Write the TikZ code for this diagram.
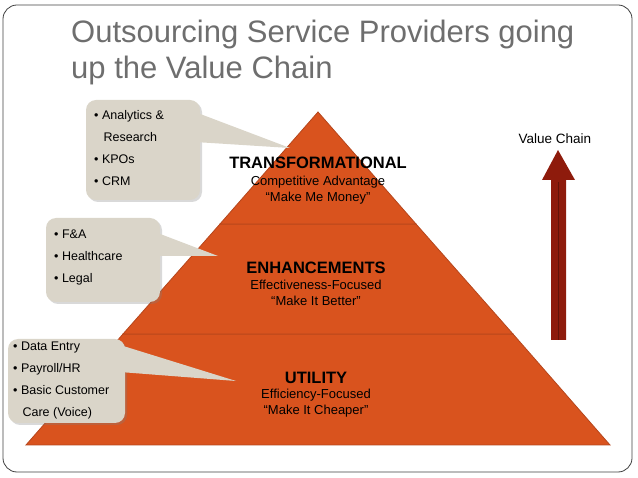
\documentclass[tikz,border=0pt]{standalone}
\usepackage{fontspec}
\setmainfont{Liberation Sans}
\usetikzlibrary{shadows}
\definecolor{pyr}{HTML}{D9531E}
\definecolor{pyredge}{HTML}{B5461C}
\definecolor{callf}{HTML}{DAD5C9}
\definecolor{titleg}{HTML}{6E6E6E}
\definecolor{arr}{HTML}{8E1B0C}
\begin{document}
\begin{tikzpicture}[x=1pt,y=-1pt,
  layer/.style={fill=pyr,draw=pyredge,line width=0.8pt},
  calltxt/.style={font=\fontsize{12.5}{22}\selectfont,align=left,anchor=north west,inner sep=0pt},
  head/.style={font=\bfseries\fontsize{16.5}{18}\selectfont},
  sub/.style={font=\fontsize{13}{15}\selectfont}]
\useasboundingbox (0,0) rectangle (638,478);
\draw[black!75,line width=0.8pt,rounded corners=14pt] (3,5) rectangle (632,472);
\node[anchor=north west,text=titleg,font=\fontsize{31}{36}\selectfont,align=left,inner sep=0pt] (title) at (71,20) {Outsourcing Service Providers going\\up the Value Chain};
% pyramid
\coordinate (apex) at (318,112);
\draw[layer] (26,445) -- (610,445) -- (513,334) -- (123,334) -- cycle;
\draw[layer] (123,334) -- (513,334) -- (416,224) -- (220,224) -- cycle;
\draw[layer] (220,224) -- (416,224) -- (apex) -- cycle;
\node[head] (t1) at (318,163) {TRANSFORMATIONAL};
\node[sub] (t1a) at (318,182) {Competitive Advantage};
\node[sub] (t1b) at (318,198) {“Make Me Money”};
\node[head] (t2) at (316,268) {ENHANCEMENTS};
\node[sub] (t2a) at (316,285) {Effectiveness-Focused};
\node[sub] (t2b) at (316,301) {“Make It Better”};
\node[head] (t3) at (316,378) {UTILITY};
\node[sub] (t3a) at (316,395) {Efficiency-Focused};
\node[sub] (t3b) at (316,411) {“Make It Cheaper”};
% callouts
\fill[callf,drop shadow={opacity=0.3,shadow xshift=2pt,shadow yshift=-2pt}] [rounded corners=10pt] (86,100) rectangle (200,200);
\fill[callf] (195,112) -- (290,148) -- (195,142) -- cycle;
\node[calltxt] (c1) at (94,110) {• Analytics \&\\\hspace*{0.75em}Research\\• KPOs\\• CRM};
\fill[callf,drop shadow={opacity=0.3,shadow xshift=2pt,shadow yshift=-2pt}] [rounded corners=10pt] (46,218) rectangle (160,302);
\fill[callf] (155,232) -- (218,256) -- (155,256) -- cycle;
\node[calltxt] (c2) at (54,230) {• F\&A\\• Healthcare\\• Legal};
\fill[callf,drop shadow={opacity=0.3,shadow xshift=2pt,shadow yshift=-2pt}] [rounded corners=10pt] (8,339) rectangle (125,423);
\fill[callf] (120,345) -- (236,381) -- (120,372) -- cycle;
\node[calltxt] (c3) at (13,342) {• Data Entry\\• Payroll/HR\\• Basic Customer\\\hspace*{0.75em}Care (Voice)};
% arrow
\node[font=\fontsize{13.5}{15}\selectfont] (vc) at (555,139) {Value Chain};
\coordinate (abot) at (558,340);
\coordinate (atop) at (558,150);
\fill[arr] (551,340) -- (551,180) -- (542,180) -- (atop) -- (575,180) -- (566,180) -- (566,340) -- cycle;
\draw[arr!70!black,line width=0.6pt] (558,182) -- (abot);
\end{tikzpicture}
\end{document}
